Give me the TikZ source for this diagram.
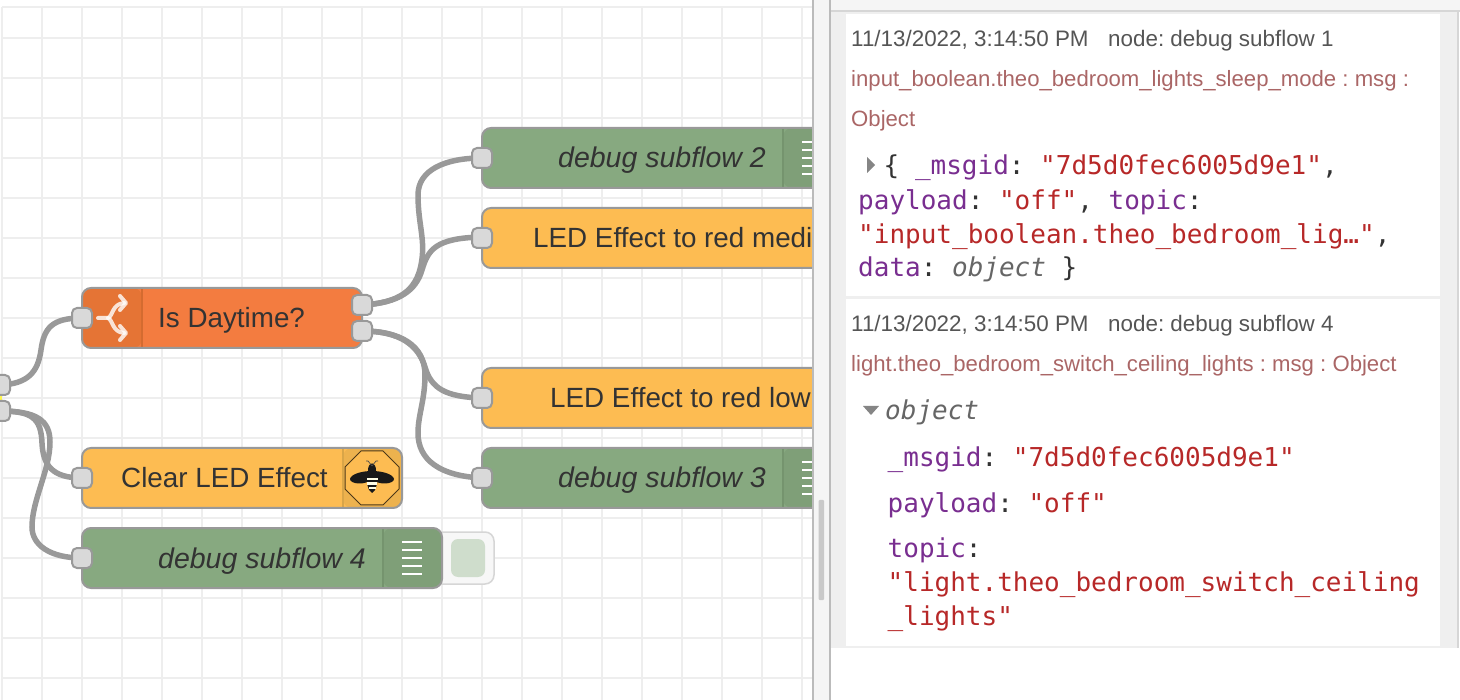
\documentclass[tikz,border=0pt]{standalone}
\usepackage{fontspec}
\setmainfont{Liberation Sans}
\newfontfamily\monof{DejaVu Sans Mono}
\usetikzlibrary{arrows.meta}
\definecolor{gridc}{HTML}{EEEEEE}
\definecolor{wirec}{HTML}{999999}
\definecolor{orangec}{HTML}{F37C40}
\definecolor{orangesec}{HTML}{E57435}
\definecolor{orangediv}{HTML}{D46B30}
\definecolor{yellowc}{HTML}{FDBC52}
\definecolor{yellowsec}{HTML}{EDB24E}
\definecolor{yellowdiv}{HTML}{D9A548}
\definecolor{greenc}{HTML}{87A980}
\definecolor{greensec}{HTML}{7F9F78}
\definecolor{greendiv}{HTML}{75946E}
\definecolor{portc}{HTML}{D9D9D9}
\definecolor{inkc}{HTML}{333333}
\definecolor{headc}{HTML}{555555}
\definecolor{topicc}{HTML}{AA6666}
\definecolor{keyc}{HTML}{792E90}
\definecolor{strc}{HTML}{B72828}
\definecolor{objc}{HTML}{666666}
\definecolor{panelc}{HTML}{EFEFEF}
\definecolor{linec}{HTML}{BBBBBB}
\tikzset{
  flownode/.style={draw=wirec,line width=2pt,rounded corners=9pt,anchor=north west,minimum height=60pt,inner sep=0pt,outer sep=0pt},
  secleft/.style 2 args={path picture={\fill[#1] (path picture bounding box.north west) rectangle ([xshift=60pt]path picture bounding box.south west);\draw[#2,line width=1.5pt] ([xshift=60pt]path picture bounding box.north west) -- ([xshift=60pt]path picture bounding box.south west);}},
  secright/.style n args={3}{path picture={\fill[#1] (path picture bounding box.north east) rectangle ([xshift=-#3]path picture bounding box.south east);\draw[#2,line width=1.5pt] ([xshift=-#3]path picture bounding box.north east) -- ([xshift=-#3]path picture bounding box.south east);}},
  portbox/.style={draw=wirec,fill=portc,line width=2pt,rounded corners=5pt,minimum width=20pt,minimum height=20pt,inner sep=0pt,outer sep=0pt},
  wire/.style={draw=wirec,line width=5.5pt,line cap=round},
  nlabel/.style={anchor=base west,inner sep=0pt,text=inkc,font=\fontsize{27.8}{28}\selectfont},
  nlabelit/.style={nlabel,font=\fontsize{28.5}{28}\selectfont\itshape},
  head/.style={anchor=base west,inner sep=0pt,text=headc,font=\fontsize{22.4}{22}\selectfont\frenchspacing},
  topicl/.style={anchor=base west,inner sep=0pt,text=topicc,font=\fontsize{22.15}{22}\selectfont\frenchspacing},
  monol/.style={anchor=base west,inner sep=0pt,text=inkc,font=\monof\fontsize{26}{26}\selectfont\frenchspacing},
}
\newcommand{\mkey}[1]{\textcolor{keyc}{#1}}
\newcommand{\mstr}[1]{\textcolor{strc}{#1}}
\newcommand{\mobj}[1]{\textcolor{objc}{\itshape #1}}
\newcommand{\debugbars}[2]{\foreach \d in {-16,-8,0,8,16}{\draw[white,line width=2pt] (#1,#2+\d) -- ++(20,0);}}
\begin{document}
\begin{tikzpicture}[x=1pt,y=-1pt]
\useasboundingbox (0,0) rectangle (1460,700);
\fill[white] (0,0) rectangle (1460,700);
% grid
\foreach \g in {2,42,...,802}{\draw[gridc,line width=2.5pt] (\g,7) -- (\g,700);}
\foreach \g in {38,78,...,678}{\draw[gridc,line width=2.5pt] (2,\g) -- (812,\g);}
\draw[gridc,line width=2.5pt] (2,7) -- (812,7);
\fill[yellow!70!white] (0,394) rectangle (2,402);
% debug button
\draw[draw=gridc!90!black,fill=white!97!black,line width=1.5pt,rounded corners=9pt] (425,532) rectangle (494,584);
\fill[fill=greenc!40!white,rounded corners=7pt] (451,539) rectangle (485,577);
% nodes
\node[flownode,fill=orangec,minimum width=280pt,secleft={orangesec}{orangediv}] (day) at (82,288) {};
\node[flownode,fill=yellowc,minimum width=320pt,secright={yellowsec}{yellowdiv}{59pt}] (clear) at (82,448) {};
\node[flownode,fill=greenc,minimum width=360pt,secright={greensec}{greendiv}{59pt}] (dbgfour) at (82,528) {};
\node[flownode,fill=greenc,minimum width=360pt,secright={greensec}{greendiv}{59pt}] (dbgtwo) at (482,128) {};
\node[flownode,fill=yellowc,minimum width=360pt] (ledmed) at (482,208) {};
\node[flownode,fill=yellowc,minimum width=360pt] (ledlow) at (482,368) {};
\node[flownode,fill=greenc,minimum width=360pt,secright={greensec}{greendiv}{59pt}] (dbgthree) at (482,448) {};
% wires
\coordinate (srcA) at (0,385);
\coordinate (srcB) at (0,411);
\draw[wire] (srcA) .. controls (28,384) and (38,372) .. (41,350) .. controls (44,328) and (52,318) .. (82,318);
\draw[wire] (srcB) .. controls (32,411) and (41,418) .. (42,443) .. controls (43,465) and (52,478) .. (82,478);
\draw[wire] (srcB) .. controls (36,411) and (50,420) .. (50,442) .. controls (50,470) and (32,500) .. (32,527) .. controls (32,545) and (50,558) .. (82,558);
\coordinate (oa) at (362,305);
\coordinate (ob) at (362,331);
\draw[wire] (oa) .. controls (400,303) and (416,290) .. (421,265) .. controls (426,240) and (418,225) .. (418,195) .. controls (418,170) and (445,158) .. (482,158);
\draw[wire] (oa) .. controls (400,303) and (416,290) .. (422,270) .. controls (428,250) and (435,238) .. (482,237);
\draw[wire] (ob) .. controls (400,331) and (418,345) .. (425,367) .. controls (431,388) and (445,397) .. (482,398);
\draw[wire] (ob) .. controls (400,331) and (425,345) .. (425,375) .. controls (425,400) and (418,415) .. (418,433) .. controls (418,460) and (440,476) .. (482,478);
% debug icon bars
\debugbars{402}{558}
\debugbars{802}{158}
\debugbars{802}{478}
% switch icon
\begin{scope}[draw=white,line width=4pt,opacity=.8,line cap=round,line join=round]
\draw (98,318) -- (108,318) .. controls (113,316) and (112,304) .. (124,303);
\draw (108,318) .. controls (113,320) and (112,332) .. (124,333);
\draw (120,296) -- (126,303) -- (120,310);
\draw (120,326) -- (126,333) -- (120,340);
\end{scope}
% bee icon
\draw[fill=yellowc,draw=black!70!yellowc,line width=1pt] (361,451) -- (383,451) -- (399,467) -- (399,489) -- (383,505) -- (361,505) -- (345,489) -- (345,467) -- cycle;
\fill[black!90] (372,471) .. controls (362,471) and (351,474) .. (350,479) .. controls (350,484) and (365,486) .. (372,479) .. controls (379,486) and (394,484) .. (394,479) .. controls (393,474) and (382,471) .. (372,471) -- cycle;
\fill[black!90] (372,470) ellipse (4pt and 6.5pt);
\draw[black!70,line width=.7pt] (372,466) -- (368,461) -- (366,461);
\draw[black!70,line width=.7pt] (372,466) -- (376,461) -- (378,461);
\fill[black!90] (367,477) -- (377,477) -- (377,484) -- (375,490) -- (372,493) -- (369,490) -- (367,484) -- cycle;
\fill[white!90!yellow] (366.5,478) rectangle (377.5,480.5);
\fill[white!90!yellow] (367,482.5) rectangle (377,485);
\fill[white!90!yellow] (368.5,487) rectangle (375.5,489);
% ports
\node[portbox] (pa) at (0,385) {};
\node[portbox] (pb) at (0,411) {};
\node[portbox] (pday) at (82,318) {};
\node[portbox] (pclear) at (82,478) {};
\node[portbox] (pfour) at (82,558) {};
\node[portbox] (outa) at (362,305) {};
\node[portbox] (outb) at (362,331) {};
\node[portbox] (ptwo) at (482,158) {};
\node[portbox] (pmed) at (482,238) {};
\node[portbox] (plow) at (482,398) {};
\node[portbox] (pthree) at (482,478) {};
% node labels
\node[nlabel] (tday) at (158,328) {Is Daytime?};
\node[nlabel] (tclear) at (121,488) {Clear LED Effect};
\node[nlabelit] (tfour) at (158,568) {debug subflow 4};
\node[nlabelit] (ttwo) at (558,168) {debug subflow 2};
\node[nlabel] (tmed) at (533,248) {LED Effect to red medi};
\node[nlabel] (tlow) at (550,408) {LED Effect to red low};
\node[nlabelit] (tthree) at (558,488) {debug subflow 3};
% panel
\fill[white] (812,0) rectangle (1460,700);
\fill[panelc!60!white] (813,0) rectangle (829,700);
\fill[linec] (812,0) rectangle (814,700);
\fill[linec] (828.5,0) rectangle (830.5,700);
\fill[linec!80!white,rounded corners=1pt] (818.5,500) rectangle (824,600);
\fill[panelc!60!white] (830.5,0) rectangle (1460,10);
\fill[gridc!90!black] (830.5,10) rectangle (1460,12);
\fill[panelc] (830.5,12) rectangle (1458,648);
\fill[white] (846,14) rectangle (1440,296.5);
\fill[white] (846,299) rectangle (1440,646);
\fill[white] (830.5,648) rectangle (1460,700);
\fill[gridc!90!black] (1457,12) rectangle (1458.5,648);
% first message
\node[head] (aone) at (851,46.5) {11/13/2022, 3:14:50 PM};
\node[head] (atwo) at (1108,46.5) {node: debug subflow 1};
\node[topicl] (athree) at (851,86.5) {input\_boolean.theo\_bedroom\_lights\_sleep\_mode : msg :};
\node[topicl] (afour) at (851,126.5) {Object};
\fill[objc!80!white] (867,157) -- (875,165) -- (867,173) -- cycle;
\node[monol] (afive) at (883.5,175) {\{ \mkey{\_msgid}: \mstr{"7d5d0fec6005d9e1"},};
\node[monol] (asix) at (858,209.5) {\mkey{payload}: \mstr{"off"}, \mkey{topic}:};
\node[monol] (aseven) at (858,243.5) {\mstr{"input\_boolean.theo\_bedroom\_lig…"},};
\node[monol] (aeight) at (858,276.5) {\mkey{data}: \mobj{object} \}};
% second message
\node[head] (bone) at (851,331.5) {11/13/2022, 3:14:50 PM};
\node[head] (btwo) at (1108,331.5) {node: debug subflow 4};
\node[topicl] (bthree) at (851,371.5) {light.theo\_bedroom\_switch\_ceiling\_lights : msg : Object};
\fill[objc!80!white] (863,406) -- (879,406) -- (871,415) -- cycle;
\node[monol] (bfour) at (885,420) {\mobj{object}};
\node[monol] (bfive) at (887.5,466.5) {\mkey{\_msgid}: \mstr{"7d5d0fec6005d9e1"}};
\node[monol] (bsix) at (887.5,512.5) {\mkey{payload}: \mstr{"off"}};
\node[monol] (bseven) at (887.5,558) {\mkey{topic}:};
\node[monol] (beight) at (887.5,591) {\mstr{"light.theo\_bedroom\_switch\_ceiling}};
\node[monol] (bnine) at (887.5,625) {\mstr{\_lights"}};
\end{tikzpicture}
\end{document}
